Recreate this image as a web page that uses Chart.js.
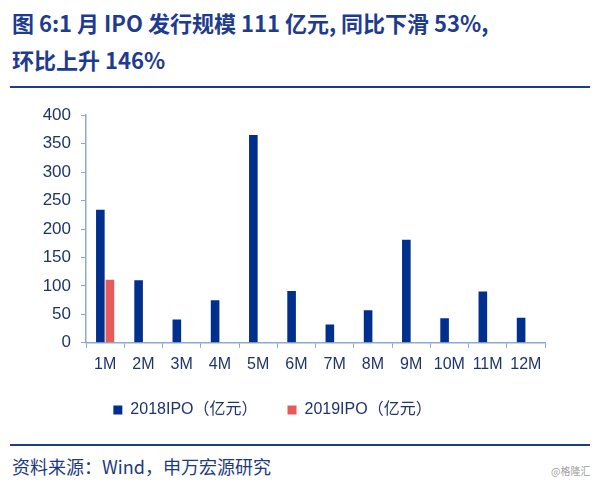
<!DOCTYPE html>
<html>
<head>
<meta charset="utf-8">
<script src="https://cdn.jsdelivr.net/npm/chart.js@4/dist/chart.umd.min.js"></script>
<style>
  body { margin: 0; width: 600px; height: 485px; background: #fff; position: relative; overflow: hidden; }
  .title { position: absolute; left: 12px; top: 4px; width: 585px; font-family: "Noto Sans CJK SC", sans-serif; font-weight: bold; font-size: 22px; line-height: 37px; color: #1d3c8f; }
  .rule { position: absolute; left: 10px; width: 580px; height: 2px; background: #1d3c8f; }
  .source { position: absolute; left: 12px; top: 453px; font-family: "Noto Sans CJK SC", sans-serif; font-size: 18px; color: #1d3a7e; }
  .mark { position: absolute; left: 551px; top: 463px; font-family: "Noto Sans CJK SC", sans-serif; font-size: 10px; color: #a0a0a0; }
  #wrap { position: absolute; left: 0; top: 95px; width: 600px; height: 333px; }
</style>
</head>
<body>
<div class="title">图 6:1 月 IPO 发行规模 111 亿元, 同比下滑 53%,<br>环比上升 146%</div>
<div class="rule" style="top:86px"></div>
<div id="wrap"><canvas id="c"></canvas></div>
<div class="rule" style="top:444px"></div>
<div class="source">资料来源：Wind，申万宏源研究</div>
<div class="mark">@格隆汇</div>
<script>
const months = ['1M', '2M', '3M', '4M', '5M', '6M', '7M', '8M', '9M', '10M', '11M', '12M'];
const ipo2018 = [234, 110, 41, 75, 365, 91, 32, 57, 181, 43, 90, 44];
const ipo2019 = [111, null, null, null, null, null, null, null, null, null, null, null];
const yTicks = [0, 50, 100, 150, 200, 250, 300, 350, 400];

const axisColor = '#8eaad3';
const textColor = '#1f3569';

new Chart(document.getElementById('c'), {
  type: 'bar',
  data: {
    labels: months,
    datasets: [
      { label: '2018IPO（亿元）', data: ipo2018, backgroundColor: '#002f8e' },
      { label: '2019IPO（亿元）', data: ipo2019, backgroundColor: '#e65a5a' }
    ]
  },
  options: {
    responsive: true,
    maintainAspectRatio: false,
    animation: false,
    categoryPercentage: 0.5,
    barPercentage: 0.9,
    layout: { padding: { top: 16, right: 55, bottom: 0, left: 0 } },
    plugins: {
      tooltip: { enabled: false },
      legend: {
        position: 'bottom',
        labels: {
          boxWidth: 9,
          boxHeight: 9,
          padding: 30,
          color: textColor,
          font: { family: 'Liberation Sans, "Noto Sans CJK SC", sans-serif', size: 16 }
        }
      }
    },
    scales: {
      x: {
        // less room under the labels, so the plot reaches further down
        afterFit(scale) { scale.height -= 9; },
        grid: { display: true, drawOnChartArea: false, offset: true, tickLength: 5, color: axisColor },
        border: { color: axisColor, width: 1.5 },
        ticks: {
          color: textColor, padding: 7, autoSkip: false, maxRotation: 0,
          font: { family: 'Liberation Sans, sans-serif', size: 16 }
        }
      },
      y: {
        min: 0,
        max: 400,
        afterBuildTicks(scale) { scale.ticks = yTicks.map(v => ({ value: v })); },
        afterFit(scale) { scale.width = 86; },
        grid: { display: true, drawOnChartArea: false, tickLength: 5, color: axisColor },
        border: { color: axisColor, width: 1.5 },
        ticks: {
          color: textColor, padding: 10,
          font: { family: 'Liberation Sans, sans-serif', size: 17 }
        }
      }
    }
  }
});
</script>
</body>
</html>
